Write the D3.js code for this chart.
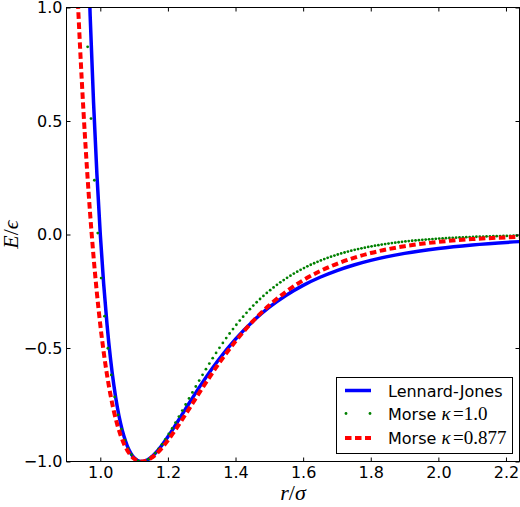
<!DOCTYPE html>
<html>
<head>
<meta charset="utf-8">
<script src="https://cdn.jsdelivr.net/npm/d3@7"></script>
<style>
  html, body { margin: 0; padding: 0; background: #fff; }
  svg { display: block; }
  text { fill: #000; }
</style>
</head>
<body>
<svg id="chart" width="520" height="507"></svg>
<script>
// ── Data ─────────────────────────────────────────────────────────────────

const ljR = [0.95, 0.96, 0.97, 0.98, 0.99, 1.00, 1.01, 1.02, 1.03, 1.04, 1.05, 1.06, 1.07, 1.08, 1.09,
  1.10, 1.11, 1.12, 1.13, 1.14, 1.15, 1.16, 1.18, 1.20, 1.22, 1.25, 1.30, 1.35, 1.40, 1.45, 1.50,
  1.55, 1.60, 1.65, 1.70, 1.75, 1.80, 1.90, 2.00, 2.10, 2.24];
const ljE = [1.9611, 1.4182, 0.9629, 0.5819, 0.2641, 0.0000, -0.2184, -0.3979, -0.5444, -0.6629,
  -0.7575, -0.8320, -0.8893, -0.9322, -0.9629, -0.9834, -0.9952, -0.9998, -0.9985, -0.9921,
  -0.9817, -0.9679, -0.9328, -0.8910, -0.8452, -0.7737, -0.6570, -0.5516, -0.4607, -0.3841,
  -0.3203, -0.2676, -0.2242, -0.1884, -0.1589, -0.1344, -0.1141, -0.0832, -0.0615, -0.0461, -0.0314];

// Morse kappa = 1.0, drawn as dots at each sample
const morse1R = [0.9625, 0.9725, 0.9825, 0.9925, 1.0025, 1.0125, 1.0225, 1.0325, 1.0425, 1.0525,
  1.0625, 1.0725, 1.0825, 1.0925, 1.1025, 1.1125, 1.1225, 1.1325, 1.1425, 1.1525,
  1.1625, 1.1725, 1.1825, 1.1925, 1.2025, 1.2125, 1.2225, 1.2325, 1.2425, 1.2525,
  1.2625, 1.2725, 1.2825, 1.2925, 1.3025, 1.3125, 1.3225, 1.3325, 1.3425, 1.3525,
  1.3625, 1.3725, 1.3825, 1.3925, 1.4025, 1.4125, 1.4225, 1.4325, 1.4425, 1.4525,
  1.4625, 1.4725, 1.4825, 1.4925, 1.5025, 1.5125, 1.5225, 1.5325, 1.5425, 1.5525,
  1.5625, 1.5725, 1.5825, 1.5925, 1.6025, 1.6125, 1.6225, 1.6325, 1.6425, 1.6525,
  1.6625, 1.6725, 1.6825, 1.6925, 1.7025, 1.7125, 1.7225, 1.7325, 1.7425, 1.7525,
  1.7625, 1.7725, 1.7825, 1.7925, 1.8025, 1.8125, 1.8225, 1.8325, 1.8425, 1.8525,
  1.8625, 1.8725, 1.8825, 1.8925, 1.9025, 1.9125, 1.9225, 1.9325, 1.9425, 1.9525,
  1.9625, 1.9725, 1.9825, 1.9925, 2.0025, 2.0125, 2.0225, 2.0325, 2.0425, 2.0525,
  2.0625, 2.0725, 2.0825, 2.0925, 2.1025, 2.1125, 2.1225, 2.1325, 2.1425, 2.1525,
  2.1625, 2.1725, 2.1825, 2.1925, 2.2025, 2.2125, 2.2225, 2.2325];
const morse1E = [0.8266, 0.5107, 0.2389, 0.0062, -0.1921, -0.3600, -0.5011, -0.6187, -0.7156, -0.7944,
  -0.8572, -0.9063, -0.9433, -0.9698, -0.9873, -0.9970, -1.0000, -0.9973, -0.9897, -0.9780,
  -0.9629, -0.9449, -0.9246, -0.9025, -0.8788, -0.8541, -0.8285, -0.8023, -0.7757, -0.7490,
  -0.7223, -0.6958, -0.6695, -0.6435, -0.6180, -0.5931, -0.5687, -0.5449, -0.5218, -0.4993,
  -0.4775, -0.4564, -0.4361, -0.4165, -0.3975, -0.3793, -0.3618, -0.3450, -0.3288, -0.3133,
  -0.2984, -0.2842, -0.2706, -0.2575, -0.2451, -0.2332, -0.2218, -0.2109, -0.2006, -0.1907,
  -0.1813, -0.1723, -0.1637, -0.1555, -0.1478, -0.1404, -0.1333, -0.1266, -0.1202, -0.1142,
  -0.1084, -0.1029, -0.0977, -0.0927, -0.0880, -0.0835, -0.0793, -0.0752, -0.0714, -0.0677,
  -0.0643, -0.0610, -0.0579, -0.0549, -0.0521, -0.0494, -0.0469, -0.0444, -0.0422, -0.0400,
  -0.0379, -0.0360, -0.0341, -0.0323, -0.0307, -0.0291, -0.0276, -0.0262, -0.0248, -0.0235,
  -0.0223, -0.0212, -0.0201, -0.0190, -0.0180, -0.0171, -0.0162, -0.0154, -0.0146, -0.0138,
  -0.0131, -0.0124, -0.0118, -0.0112, -0.0106, -0.0100, -0.0095, -0.0090, -0.0086, -0.0081,
  -0.0077, -0.0073, -0.0069, -0.0066, -0.0062, -0.0059, -0.0056, -0.0053];

// Morse kappa = 0.877, dashed line
const morse2R = [0.92, 0.93, 0.94, 0.95, 0.96, 0.97, 0.98, 0.99, 1.00, 1.01, 1.02, 1.03, 1.04, 1.05,
  1.06, 1.07, 1.08, 1.09, 1.10, 1.11, 1.12, 1.13, 1.14, 1.15, 1.16, 1.18, 1.20, 1.22, 1.25, 1.30,
  1.35, 1.40, 1.45, 1.50, 1.55, 1.60, 1.65, 1.70, 1.75, 1.80, 1.90, 2.00, 2.10, 2.24];
const morse2E = [1.5073, 1.1466, 0.8285, 0.5488, 0.3034, 0.0891, -0.0975, -0.2592, -0.3986, -0.5181,
  -0.6198, -0.7056, -0.7773, -0.8364, -0.8843, -0.9223, -0.9515, -0.9730, -0.9877, -0.9964,
  -0.9999, -0.9988, -0.9938, -0.9853, -0.9740, -0.9441, -0.9071, -0.8653, -0.7975, -0.6808,
  -0.5698, -0.4704, -0.3843, -0.3117, -0.2513, -0.2018, -0.1615, -0.1290, -0.1027, -0.0817,
  -0.0516, -0.0324, -0.0203, -0.0106];

const xTicks = [1.0, 1.2, 1.4, 1.6, 1.8, 2.0, 2.2];
const yTicks = [-1.0, -0.5, 0.0, 0.5, 1.0];
const xDomain = [0.9, 2.24];
const yDomain = [-1, 1];

// ── Layout ───────────────────────────────────────────────────────────────

const LEFT = 66.5, RIGHT = 519.5, TOP = 7.5, BOTTOM = 461.5;
const SANS = "'DejaVu Sans', sans-serif";
const SERIF = "'Liberation Serif', 'DejaVu Serif', serif";

const svg = d3.select("#chart");
svg.append("rect").attr("width", 520).attr("height", 507).attr("fill", "#fff");

const x = d3.scaleLinear().domain(xDomain).range([LEFT, RIGHT]);
const y = d3.scaleLinear().domain(yDomain).range([BOTTOM, TOP]);

svg.append("defs").append("clipPath").attr("id", "plot-clip")
  .append("rect")
  .attr("x", LEFT).attr("y", TOP)
  .attr("width", RIGHT - LEFT).attr("height", BOTTOM - TOP);

const plot = svg.append("g").attr("clip-path", "url(#plot-clip)");

const line = d3.line()
  .x((d) => x(d[0]))
  .y((d) => y(d[1]))
  .curve(d3.curveMonotoneX);

// Lennard-Jones
plot.append("path")
  .datum(ljR.map((r, i) => [r, ljE[i]]))
  .attr("d", line)
  .attr("fill", "none")
  .attr("stroke", "#0000ff")
  .attr("stroke-width", 3.5);

// Morse 1.0
plot.append("g")
  .selectAll("circle")
  .data(morse1R.map((r, i) => [r, morse1E[i]]))
  .enter().append("circle")
  .attr("cx", (d) => x(d[0]))
  .attr("cy", (d) => y(d[1]))
  .attr("r", 1.4)
  .attr("fill", "#008000");

// Morse 0.877
plot.append("path")
  .datum(morse2R.map((r, i) => [r, morse2E[i]]))
  .attr("d", line)
  .attr("fill", "none")
  .attr("stroke", "#ff0000")
  .attr("stroke-width", 4)
  .attr("stroke-dasharray", "6.5,3.5");

// ── Axes ─────────────────────────────────────────────────────────────────

const fmt = d3.format(".1f");

const styleAxis = (g) => {
  g.select(".domain").remove();
  g.selectAll(".tick line").attr("stroke", "#000").attr("stroke-width", 1);
  g.selectAll(".tick text")
    .attr("fill", "#000")
    .style("font-family", SANS)
    .style("font-size", "16px");
};

svg.append("g").attr("transform", `translate(0,${BOTTOM})`)
  .call(d3.axisBottom(x).tickValues(xTicks).tickFormat(fmt).tickSize(-4).tickPadding(5))
  .call(styleAxis);
svg.append("g").attr("transform", `translate(0,${TOP})`)
  .call(d3.axisTop(x).tickValues(xTicks).tickFormat("").tickSize(-4))
  .call(styleAxis);
svg.append("g").attr("transform", `translate(${LEFT},0)`)
  .call(d3.axisLeft(y).tickValues(yTicks).tickFormat(fmt).tickSize(-4).tickPadding(4))
  .call(styleAxis);
svg.append("g").attr("transform", `translate(${RIGHT},0)`)
  .call(d3.axisRight(y).tickValues(yTicks).tickFormat("").tickSize(-4))
  .call(styleAxis);

// Spines
svg.append("rect")
  .attr("x", LEFT).attr("y", TOP)
  .attr("width", RIGHT - LEFT).attr("height", BOTTOM - TOP)
  .attr("fill", "none").attr("stroke", "#000").attr("stroke-width", 1);

// Axis labels
const xLabel = svg.append("text")
  .attr("x", (LEFT + RIGHT) / 2).attr("y", 500)
  .attr("text-anchor", "middle")
  .style("font-family", SERIF).style("font-size", "22px");
xLabel.append("tspan").style("font-style", "italic").text("r");
xLabel.append("tspan").text("/");
xLabel.append("tspan").style("font-style", "italic").text("σ");

const yLabel = svg.append("text")
  .attr("transform", `translate(18,${(TOP + BOTTOM) / 2}) rotate(-90)`)
  .attr("text-anchor", "middle")
  .style("font-family", SERIF).style("font-size", "22px");
yLabel.append("tspan").style("font-style", "italic").text("E");
yLabel.append("tspan").text("/");
yLabel.append("tspan").style("font-style", "italic").text("ϵ");

// ── Legend ───────────────────────────────────────────────────────────────

const legend = svg.append("g");
legend.append("rect")
  .attr("x", 336.5).attr("y", 377.5).attr("width", 176).attr("height", 76)
  .attr("fill", "#fff").attr("stroke", "#000").attr("stroke-width", 1);

const rows = [
  { y: 390.5, name: "Lennard-Jones", kappa: null },
  { y: 413.5, name: "Morse ", kappa: "=1.0" },
  { y: 438, name: "Morse ", kappa: "=0.877" },
];

legend.append("line")
  .attr("x1", 345).attr("x2", 371).attr("y1", rows[0].y).attr("y2", rows[0].y)
  .attr("stroke", "#0000ff").attr("stroke-width", 3.5);
legend.selectAll("circle.lg")
  .data([346, 370])
  .enter().append("circle")
  .attr("cx", (d) => d).attr("cy", rows[1].y).attr("r", 1.4).attr("fill", "#008000");
legend.append("line")
  .attr("x1", 345).attr("x2", 371).attr("y1", rows[2].y).attr("y2", rows[2].y)
  .attr("stroke", "#ff0000").attr("stroke-width", 4).attr("stroke-dasharray", "6.5,3.5");

rows.forEach((row) => {
  const t = legend.append("text")
    .attr("x", 388).attr("y", row.y + 6)
    .style("font-family", SANS).style("font-size", "16px");
  t.append("tspan").text(row.name);
  if (row.kappa) {
    t.append("tspan").style("font-family", SERIF).style("font-style", "italic")
      .style("font-size", "19px").text("κ");
    t.append("tspan").attr("dx", 2.5).style("font-family", SERIF)
      .style("font-size", "19px").text(row.kappa);
  }
});
</script>
</body>
</html>
